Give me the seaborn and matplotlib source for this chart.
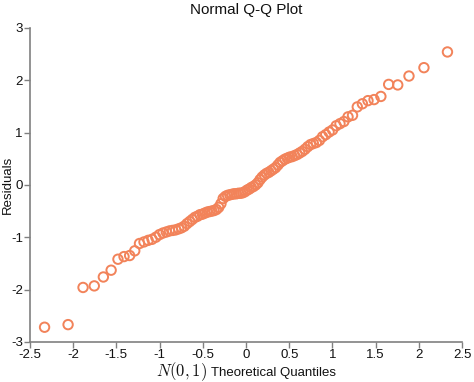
import matplotlib
matplotlib.use("Agg")
import matplotlib.pyplot as plt
import seaborn as sns
import pandas as pd

theoretical_quantiles = [
    -2.330, -2.058, -1.885, -1.755, -1.650, -1.560, -1.481, -1.411, -1.346, -1.287,
    -1.232, -1.180, -1.132, -1.087, -1.043, -1.001, -0.961, -0.922, -0.885, -0.849,
    -0.814, -0.779, -0.746, -0.714, -0.682, -0.651, -0.621, -0.591, -0.562, -0.533,
    -0.505, -0.477, -0.449, -0.422, -0.395, -0.369, -0.342, -0.316, -0.290, -0.264,
    -0.238, -0.213, -0.187, -0.162, -0.137, -0.112, -0.087, -0.062, -0.037, -0.012,
    0.012, 0.037, 0.062, 0.087, 0.112, 0.137, 0.162, 0.187, 0.213, 0.238,
    0.264, 0.290, 0.316, 0.342, 0.369, 0.395, 0.422, 0.449, 0.477, 0.505,
    0.533, 0.562, 0.591, 0.621, 0.651, 0.682, 0.714, 0.746, 0.779, 0.814,
    0.849, 0.885, 0.922, 0.961, 1.001, 1.043, 1.087, 1.132, 1.180, 1.232,
    1.287, 1.346, 1.411, 1.481, 1.560, 1.650, 1.755, 1.885, 2.058, 2.330,
]

residuals = [
    -2.72, -2.67, -1.96, -1.93, -1.76, -1.63, -1.42, -1.37, -1.35, -1.26,
    -1.12, -1.09, -1.06, -1.04, -1.00, -0.95, -0.92, -0.90, -0.88, -0.87,
    -0.86, -0.84, -0.82, -0.79, -0.74, -0.70, -0.66, -0.62, -0.60, -0.57,
    -0.56, -0.54, -0.52, -0.51, -0.50, -0.49, -0.47, -0.43, -0.36, -0.26,
    -0.22, -0.20, -0.19, -0.18, -0.17, -0.17, -0.16, -0.16, -0.15, -0.13,
    -0.10, -0.08, -0.05, -0.03, 0.00, 0.04, 0.10, 0.15, 0.19, 0.22,
    0.24, 0.27, 0.30, 0.33, 0.38, 0.43, 0.46, 0.49, 0.51, 0.53,
    0.54, 0.56, 0.58, 0.61, 0.64, 0.68, 0.73, 0.77, 0.79, 0.81,
    0.85, 0.92, 0.96, 1.01, 1.05, 1.13, 1.17, 1.21, 1.30, 1.33,
    1.49, 1.55, 1.61, 1.63, 1.69, 1.92, 1.91, 2.08, 2.24, 2.54,
]

x_ticks = [-2.5, -2, -1.5, -1, -0.5, 0, 0.5, 1, 1.5, 2, 2.5]
x_tick_labels = ["-2.5", "-2", "-1.5", "-1", "-0.5", "0", "0.5", "1", "1.5", "2", "2.5"]
y_ticks = [-3, -2, -1, 0, 1, 2, 3]
y_tick_labels = ["-3", "-2", "-1", "0", "1", "2", "3"]

sns.set_style("white")
plt.rcParams["font.family"] = ["Liberation Sans", "DejaVu Sans"]
plt.rcParams["mathtext.fontset"] = "cm"

df = pd.DataFrame({"tq": theoretical_quantiles, "res": residuals})

fig = plt.figure(figsize=(4.74, 3.82), dpi=100)
ax = fig.add_axes([0.063, 0.105, 0.912, 0.822])

sns.scatterplot(data=df, x="tq", y="res", ax=ax, marker="o", s=46,
                facecolors="none", edgecolor="#F2835A", linewidth=1.4,
                legend=False)

ax.set_xlim(-2.5, 2.5)
ax.set_ylim(-3, 3)
ax.set_xticks(x_ticks)
ax.set_xticklabels(x_tick_labels)
ax.set_yticks(y_ticks)
ax.set_yticklabels(y_tick_labels)

for side in ["top", "right"]:
    ax.spines[side].set_visible(False)
for side in ["left", "bottom"]:
    ax.spines[side].set_color("#808080")
    ax.spines[side].set_linewidth(1.2)

ax.tick_params(axis="both", which="major", length=4, width=1.0, color="#808080",
               labelsize=9.5, labelcolor="#111111", pad=1, direction="out")
ax.tick_params(axis="x", bottom=True)
ax.tick_params(axis="y", left=True)

ax.set_title("Normal Q-Q Plot", fontsize=11, pad=10, color="#111111")
ax.set_xlabel("")
fig.text(0.437, 0.016, r"$N(0,1)$", fontsize=12, ha="right", va="baseline", color="#111111")
fig.text(0.445, 0.016, "Theoretical Quantiles", fontsize=9.5, ha="left", va="baseline",
         color="#111111")
ax.set_ylabel("Residuals", fontsize=9.5, color="#111111")
ax.yaxis.set_label_coords(-0.037, 0.5)

fig.savefig("out.png", dpi=100)
